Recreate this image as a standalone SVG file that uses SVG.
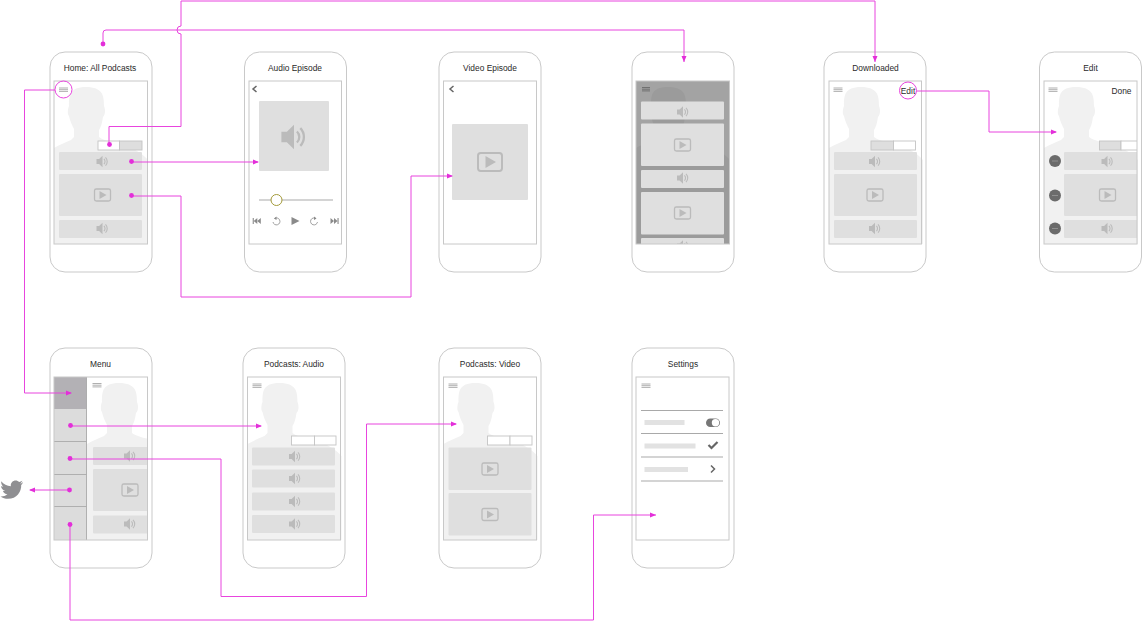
<svg xmlns="http://www.w3.org/2000/svg" width="1142" height="621" viewBox="0 0 1142 621">
<style>
text{font-family:"Liberation Sans",Arial,sans-serif;font-size:8.4px;fill:#2a2a2a;text-anchor:middle}
.phone{fill:#fff;stroke:#c9c9c9;stroke-width:1}
.screen{fill:none;stroke:#c8c8c8;stroke-width:1}
.row{fill:#dfdfdf}
.person{fill:#f1f1f1}
.tog{fill:#fff;stroke:#c4c4c4;stroke-width:.9}
.togd{fill:#dedede;stroke:#c4c4c4;stroke-width:.9}
.ic{fill:#bbb}
.ics{fill:none;stroke:#bbb}
.ctrl{fill:#8a8a8a}
.conn{fill:none;stroke:#e845de;stroke-width:1}
.halo{fill:none;stroke:#e845de;stroke-width:1}
.dot{fill:#e32fd9}
.ah{fill:#e32fd9}
.rule{stroke:#a9a9a9;stroke-width:1}
.bar{fill:#e2e2e2}
</style>
<defs>
<rect id="ph" class="phone" x="0" y="0" width="102" height="220" rx="15"/>
<path id="person" d="M0 67C5 64 12 61 17 59L20 56V48C18 44 16 40 15 35C13 33 14 27 15 25C15 15 15 6 32 6C49 6 50 15 50 25C51 27 52 33 49 36C48 42 47 46 45 49V56C50 60 62 62 72 64C80 68 88 72 94 79V163H0Z"/>
<g id="burger"><path d="M-4.5 -1.5H4.5M-4.5 .2H4.5M-4.5 1.9H4.5" stroke="#9a9a9a" stroke-width=".8" fill="none"/></g>
<g id="spk"><path class="ic" d="M-6 -2.5H-3.4L0 -5.8V5.8L-3.4 2.5H-6Z"/><path class="ics" stroke-width="1.1" d="M1.4 -2.6A3.6 3.6 0 0 1 1.4 2.6M3 -4.2A6 6 0 0 1 3 4.2"/></g>
<g id="vid"><rect class="ics" stroke-width="1.3" x="-8" y="-6" width="16" height="12" rx="1.8"/><path class="ic" d="M-3 -4L4 0L-3 4Z"/></g>
<path id="ar" class="ah" d="M-6 -2.500L0 0L-6 2.500Z"/>
<clipPath id="cm"><rect x="54" y="377" width="93.500" height="163"/></clipPath>
<clipPath id="co"><rect x="636" y="81" width="93.500" height="163"/></clipPath>
<clipPath id="ce"><rect x="1044" y="81" width="93" height="163"/></clipPath>
</defs>

<g id="node-home">
<use href="#ph" x="50" y="52"/><use href="#person" class="person" x="54" y="81"/>
<rect class="tog" x="98" y="141" width="21.500" height="9"/><rect class="togd" x="119.500" y="141" width="22.500" height="9"/>
<rect class="row" x="59" y="152" width="83" height="18" rx="1"/><rect class="row" x="59" y="174" width="83" height="42" rx="1"/><rect class="row" x="59" y="220" width="83" height="18" rx="1"/>
<use href="#spk" x="102.500" y="161.500"/><use href="#vid" x="102.500" y="195"/><use href="#spk" x="102.500" y="228.500"/><use href="#burger" x="63.500" y="89.500"/>
<rect class="screen" x="54" y="81" width="93.500" height="163"/>
<text x="100" y="70.500">Home: All Podcasts</text>
</g>

<g id="node-audio-episode">
<use href="#ph" x="244.500" y="52"/>
<rect class="row" x="259" y="101" width="70" height="70" rx="1"/>
<use href="#spk" transform="translate(294,137) scale(2.100)"/>
<path d="M259 200H333" stroke="#a9a9a9" stroke-width="1"/><circle cx="276.500" cy="200" r="5.500" fill="#fff" stroke="#a39a3a" stroke-width="1"/>
<path d="M256.500 86L253 89L256.500 92" fill="none" stroke="#666" stroke-width="1.500"/>
<g class="ctrl"><path d="M252.700 218h1.100v6h-1.100zM257.300 218v6l-3.500 -3zM260.800 218v6l-3.500 -3zM330.500 218v6l3.500 -3zM334 218v6l3.500 -3zM337.500 218h1.100v6h-1.100z"/><path d="M291.500 217L299.500 221L291.500 225Z"/></g>
<g fill="none" stroke="#8a8a8a" stroke-width=".8"><path d="M274.500 218.500A3.500 3.500 0 1 1 273 222"/><path d="M316 218.500A3.500 3.500 0 1 0 317.500 222"/></g>
<path class="ctrl" d="M276.500 216.500L274 218.500L276.500 220ZM314 216.500L316.500 218.500L314 220Z"/>
<rect class="screen" x="249" y="81" width="92.500" height="163"/>
<text x="295" y="70.500">Audio Episode</text>
</g>

<g id="node-video-episode">
<use href="#ph" x="439" y="52"/>
<rect class="row" x="452" y="124" width="76" height="76" rx="1"/>
<use href="#vid" transform="translate(490,162) scale(1.500)"/>
<path d="M453.500 86L450 89L453.500 92" fill="none" stroke="#666" stroke-width="1.500"/>
<rect class="screen" x="443.500" y="81" width="93" height="163"/>
<text x="490" y="70.500">Video Episode</text>
</g>

<g id="node-overlay">
<use href="#ph" x="632" y="52"/>
<rect x="636" y="81" width="93.500" height="163" fill="#a3a3a3"/>
<use href="#person" fill="#9b9b9b" x="636" y="81"/>
<g clip-path="url(#co)">
<rect class="row" x="641" y="101.500" width="83" height="18" rx="1"/><rect class="row" x="641" y="123.500" width="83" height="42.500" rx="1"/><rect class="row" x="641" y="170" width="83" height="18" rx="1"/><rect class="row" x="641" y="192" width="83" height="42.500" rx="1"/><rect class="row" x="641" y="238" width="83" height="18" rx="1"/>
<use href="#spk" x="683" y="112"/><use href="#vid" x="682.500" y="145"/><use href="#spk" x="683" y="178"/><use href="#vid" x="682.500" y="213"/><use href="#spk" x="683" y="246"/>
</g>
<path d="M642 87.500H650M642 89.200H650M642 90.900H650" stroke="#636363" stroke-width=".8" fill="none"/>
<rect class="screen" x="636" y="81" width="93.500" height="163"/>
</g>

<g id="node-downloaded">
<use href="#ph" x="824" y="52"/><use href="#person" class="person" x="829" y="81"/>
<rect class="togd" x="871" y="141" width="22.500" height="9"/><rect class="tog" x="893.500" y="141" width="22" height="9"/>
<rect class="row" x="834" y="152" width="83" height="18" rx="1"/><rect class="row" x="834" y="174" width="83" height="42" rx="1"/><rect class="row" x="834" y="220" width="83" height="18" rx="1"/>
<use href="#spk" x="875" y="161.500"/><use href="#vid" x="875" y="195"/><use href="#spk" x="875" y="228.500"/><use href="#burger" x="838" y="89.500"/>
<rect class="screen" x="829" y="81" width="92.500" height="163"/>
<text x="875.500" y="70.500">Downloaded</text>
<text x="908" y="93.500">Edit</text>
</g>

<g id="node-edit">
<use href="#ph" x="1039.500" y="52"/><use href="#person" class="person" x="1044" y="81"/>
<g clip-path="url(#ce)">
<rect class="togd" x="1099.500" y="141" width="21.500" height="9"/><rect class="tog" x="1121" y="141" width="22" height="9"/>
<rect class="row" x="1064" y="152" width="83" height="18" rx="1"/><rect class="row" x="1064" y="174" width="83" height="42" rx="1"/><rect class="row" x="1064" y="220" width="83" height="18" rx="1"/>
</g>
<use href="#spk" x="1107.500" y="161.500"/><use href="#vid" x="1107.500" y="195"/><use href="#spk" x="1107.500" y="228.500"/><use href="#burger" x="1053" y="89.500"/>
<g fill="#6b6b6b"><circle cx="1055" cy="161" r="6"/><circle cx="1055" cy="195.500" r="6"/><circle cx="1055" cy="228.500" r="6"/></g>
<path d="M1052 161H1058M1052 195.500H1058M1052 228.500H1058" stroke="#999" stroke-width=".8"/>
<rect class="screen" x="1044" y="81" width="93" height="163"/>
<text x="1090.500" y="70.500">Edit</text>
<text x="1121.500" y="93.500">Done</text>
</g>

<g id="node-menu">
<use href="#ph" x="50" y="348"/>
<g clip-path="url(#cm)">
<use href="#person" class="person" x="87" y="377"/>
<rect class="row" x="93" y="447" width="60" height="18" rx="1"/><rect class="row" x="93" y="469" width="60" height="42" rx="1"/><rect class="row" x="93" y="515.500" width="60" height="18" rx="1"/>
</g>
<use href="#spk" x="130" y="456"/><use href="#vid" x="130" y="490"/><use href="#spk" x="130" y="524"/><use href="#burger" x="97" y="385"/>
<rect x="54" y="377" width="32.500" height="163" fill="#dcdcdc"/><rect x="54" y="377" width="32.500" height="32" fill="#b3b1b5"/>
<path d="M54 441.500H86.500M54 474.500H86.500M54 506.500H86.500M86.500 377V540" stroke="#a9a9a9" stroke-width=".9" fill="none"/>
<rect class="screen" x="54" y="377" width="93.500" height="163"/>
<text x="100.500" y="366.500">Menu</text>
</g>

<g id="node-podcasts-audio">
<use href="#ph" x="243" y="348"/><use href="#person" class="person" x="247.500" y="377"/>
<rect class="tog" x="291.500" y="436" width="23" height="9"/><rect class="tog" x="314.500" y="436" width="21.500" height="9"/>
<rect class="row" x="252" y="447.500" width="83" height="18" rx="1"/><rect class="row" x="252" y="469.500" width="83" height="18" rx="1"/><rect class="row" x="252" y="492.500" width="83" height="18" rx="1"/><rect class="row" x="252" y="515" width="83" height="18" rx="1"/>
<use href="#spk" x="295" y="456.500"/><use href="#spk" x="295" y="478.500"/><use href="#spk" x="295" y="501.500"/><use href="#spk" x="295" y="524"/><use href="#burger" x="257" y="385.500"/>
<rect class="screen" x="247.500" y="377" width="93" height="163"/>
<text x="294" y="366.500">Podcasts: Audio</text>
</g>

<g id="node-podcasts-video">
<use href="#ph" x="439" y="348"/><use href="#person" class="person" x="443.500" y="377"/>
<rect class="tog" x="487.500" y="436" width="22.500" height="9"/><rect class="tog" x="510" y="436" width="22" height="9"/>
<rect class="row" x="448.500" y="447.500" width="83" height="42.500" rx="1"/><rect class="row" x="448.500" y="493" width="83" height="42.500" rx="1"/>
<use href="#vid" x="490" y="469"/><use href="#vid" x="490" y="514.500"/><use href="#burger" x="453" y="385.500"/>
<rect class="screen" x="443.500" y="377" width="93" height="163"/>
<text x="490" y="366.500">Podcasts: Video</text>
</g>

<g id="node-settings">
<use href="#ph" x="632" y="348"/>
<use href="#burger" x="646" y="385.500"/>
<path class="rule" d="M641 410.500H723M641 433.500H723M641 457H723M641 481H723"/>
<rect class="bar" x="644.500" y="420" width="40" height="5"/><rect class="bar" x="644.500" y="443.500" width="51" height="5"/><rect class="bar" x="644.500" y="467" width="43.500" height="5"/>
<rect x="706" y="418.500" width="14" height="8.500" rx="4.250" fill="#777"/><circle cx="715.500" cy="422.750" r="3.700" fill="#fff"/>
<path d="M708.500 445L711.500 448L717.500 442" fill="none" stroke="#666" stroke-width="2.200"/>
<path d="M711 465.500L714.500 469L711 472.500" fill="none" stroke="#666" stroke-width="1.500"/>
<rect class="screen" x="636" y="377" width="93" height="163"/>
<text x="683" y="366.500">Settings</text>
</g>

<g id="node-twitter">
<path fill="#8f8f92" d="M23 482C22 483 21 483.500 20 483.500C21 483 22 481.800 22.300 480.800C21.300 481.400 20.300 481.800 19.200 482C18.300 481 17 480.400 15.600 480.400C12.900 480.400 10.800 482.600 10.800 485.200C10.800 485.600 10.800 486 10.900 486.300C7 486.100 3.500 484.200 1.200 481.300C1 483 1.500 485.300 3.300 486.600C2.500 486.600 1.800 486.400 1.100 486C1.100 488.400 2.800 490.300 5 490.800C4.300 491 3.600 491 2.900 490.900C3.500 492.800 5.300 494.200 7.400 494.300C5.300 495.900 3 496.700 .5 496.500C2.600 498 5.300 498.800 8 498.800C16.800 498.800 21.500 491.500 21.200 484.900C22 484.300 22.600 483.600 23 482Z"/>
</g>

<g id="connectors">
<path class="conn" d="M103 44V33Q103 30 106 30H684V62"/>
<path class="conn" d="M109 144.500V126.500H181V34A4 4 0 0 1 181 26V1H875V62"/>
<path class="conn" d="M131 162H258"/>
<path class="conn" d="M131 196H181V297H411V176H452"/>
<path class="conn" d="M55 90H24.500V393H71"/>
<path class="conn" d="M916.500 91H989V132H1056"/>
<path class="conn" d="M70.500 426H261"/>
<path class="conn" d="M70 459H221V596.500H366.500V424H456"/>
<path class="conn" d="M69.500 490H30"/>
<path class="conn" d="M70 524.500V620H593.500V515H656"/>
<circle class="halo" cx="63.500" cy="89.500" r="8.500"/>
<circle class="halo" cx="908" cy="90.500" r="8.500"/>
<g class="dots"><circle class="dot" cx="103" cy="44" r="2.400"/><circle class="dot" cx="109.500" cy="144.500" r="2.400"/><circle class="dot" cx="131.500" cy="161.500" r="2.400"/><circle class="dot" cx="131.500" cy="195.500" r="2.400"/><circle class="dot" cx="70.500" cy="425.500" r="2.400"/><circle class="dot" cx="70" cy="458.500" r="2.400"/><circle class="dot" cx="69.500" cy="490" r="2.400"/><circle class="dot" cx="70" cy="524.500" r="2.400"/></g>
<use href="#ar" transform="translate(684,62) rotate(90)"/>
<use href="#ar" transform="translate(875,62) rotate(90)"/>
<use href="#ar" transform="translate(259,162)"/>
<use href="#ar" transform="translate(453,176)"/>
<use href="#ar" transform="translate(72,393)"/>
<use href="#ar" transform="translate(1057,132)"/>
<use href="#ar" transform="translate(262,426)"/>
<use href="#ar" transform="translate(457,424)"/>
<use href="#ar" transform="translate(29,490) rotate(180)"/>
<use href="#ar" transform="translate(656,515)"/>
</g>
</svg>
